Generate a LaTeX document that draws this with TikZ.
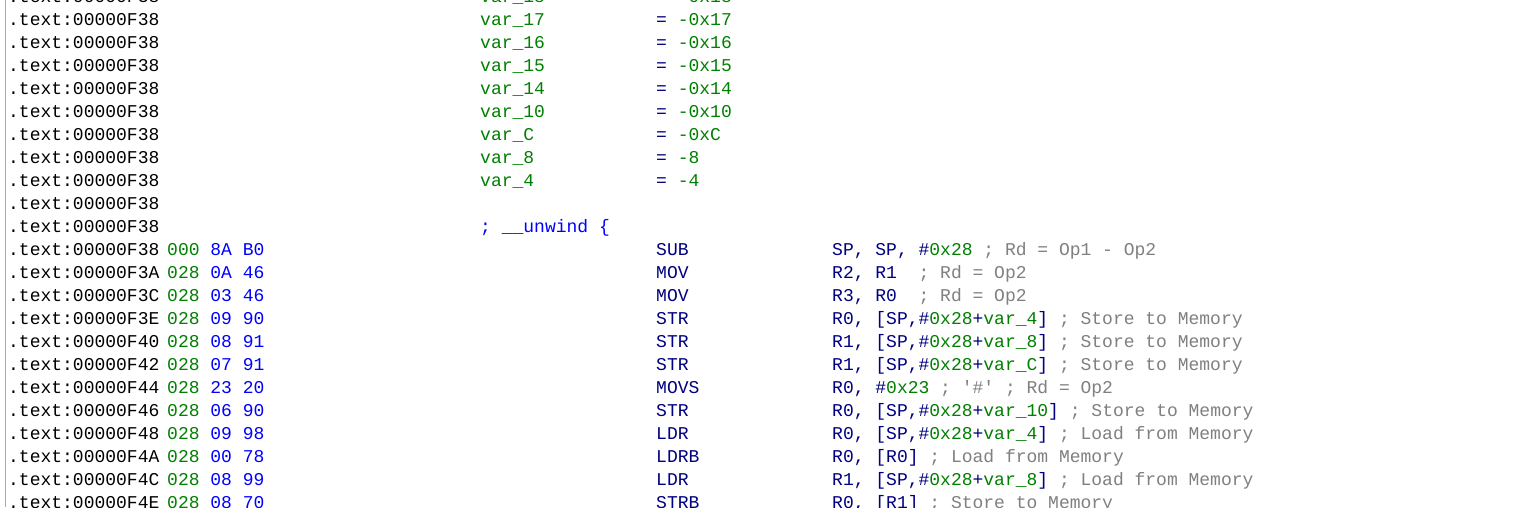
\documentclass[tikz,border=0pt]{standalone}
\usepackage{fontspec}
\newfontfamily\mono{Liberation Mono}
\definecolor{ig}{HTML}{008000}
\definecolor{ib}{HTML}{0000FF}
\definecolor{in}{HTML}{000080}
\definecolor{igr}{HTML}{808080}
\definecolor{lb}{HTML}{7FB2F0}
\newcommand\G[1]{\textcolor{ig}{#1}}
\newcommand\B[1]{\textcolor{ib}{#1}}
\newcommand\N[1]{\textcolor{in}{#1}}
\newcommand\C[1]{\textcolor{igr}{#1}}
\begin{document}
\begin{tikzpicture}[x=1pt,y=-1pt,
  t/.style={anchor=base west,inner sep=0pt,font=\mono\fontsize{18}{18}\selectfont}]
\useasboundingbox (0,0) rectangle (1531,507);
\fill[white] (0,0) rectangle (1531,507);
\draw[color=lb,line width=1pt] (5,0) -- (5,507);
\newcommand\addr[2]{\node[t] (a#1) at (8,#1) {.text:#2};}
\newcommand\var[3]{\node[t] (v#1) at (480,#1) {\G{#2}};\node[t] (e#1) at (656,#1) {\N{=}~\G{#3}};}
\newcommand\code[5]{\node[t] (b#1) at (167,#1) {\G{#2}~\B{#3}};\node[t] (m#1) at (656,#1) {\N{#4}};\node[t] (o#1) at (832,#1) {#5};}
\foreach \y in {2,25,48,71,94,117,140,163,186,209}{\addr{\y}{00000F38}}
\var{2}{var\_18}{-0x18}
\var{25}{var\_17}{-0x17}
\var{48}{var\_16}{-0x16}
\var{71}{var\_15}{-0x15}
\var{94}{var\_14}{-0x14}
\var{117}{var\_10}{-0x10}
\var{140}{var\_C}{-0xC}
\var{163}{var\_8}{-8}
\var{186}{var\_4}{-4}
\addr{232}{00000F38}
\node[t] (uw) at (480,232) {\B{;~\_\_unwind~\{}};
\addr{255}{00000F38}\code{255}{000}{8A B0}{SUB}{\N{SP,~SP,~\#}\G{0x28}\C{~;~Rd~=~Op1~-~Op2}}
\addr{278}{00000F3A}\code{278}{028}{0A 46}{MOV}{\N{R2,~R1}\C{~~;~Rd~=~Op2}}
\addr{301}{00000F3C}\code{301}{028}{03 46}{MOV}{\N{R3,~R0}\C{~~;~Rd~=~Op2}}
\addr{324}{00000F3E}\code{324}{028}{09 90}{STR}{\N{R0,~[SP,\#}\G{0x28}\N{+}\G{var\_4}\N{]}\C{~;~Store~to~Memory}}
\addr{347}{00000F40}\code{347}{028}{08 91}{STR}{\N{R1,~[SP,\#}\G{0x28}\N{+}\G{var\_8}\N{]}\C{~;~Store~to~Memory}}
\addr{370}{00000F42}\code{370}{028}{07 91}{STR}{\N{R1,~[SP,\#}\G{0x28}\N{+}\G{var\_C}\N{]}\C{~;~Store~to~Memory}}
\addr{393}{00000F44}\code{393}{028}{23 20}{MOVS}{\N{R0,~\#}\G{0x23}\C{~;~'\#'~;~Rd~=~Op2}}
\addr{416}{00000F46}\code{416}{028}{06 90}{STR}{\N{R0,~[SP,\#}\G{0x28}\N{+}\G{var\_10}\N{]}\C{~;~Store~to~Memory}}
\addr{439}{00000F48}\code{439}{028}{09 98}{LDR}{\N{R0,~[SP,\#}\G{0x28}\N{+}\G{var\_4}\N{]}\C{~;~Load~from~Memory}}
\addr{462}{00000F4A}\code{462}{028}{00 78}{LDRB}{\N{R0,~[R0]}\C{~;~Load~from~Memory}}
\addr{485}{00000F4C}\code{485}{028}{08 99}{LDR}{\N{R1,~[SP,\#}\G{0x28}\N{+}\G{var\_8}\N{]}\C{~;~Load~from~Memory}}
\addr{508}{00000F4E}\code{508}{028}{08 70}{STRB}{\N{R0,~[R1]}\C{~;~Store~to~Memory}}
\end{tikzpicture}
\end{document}
